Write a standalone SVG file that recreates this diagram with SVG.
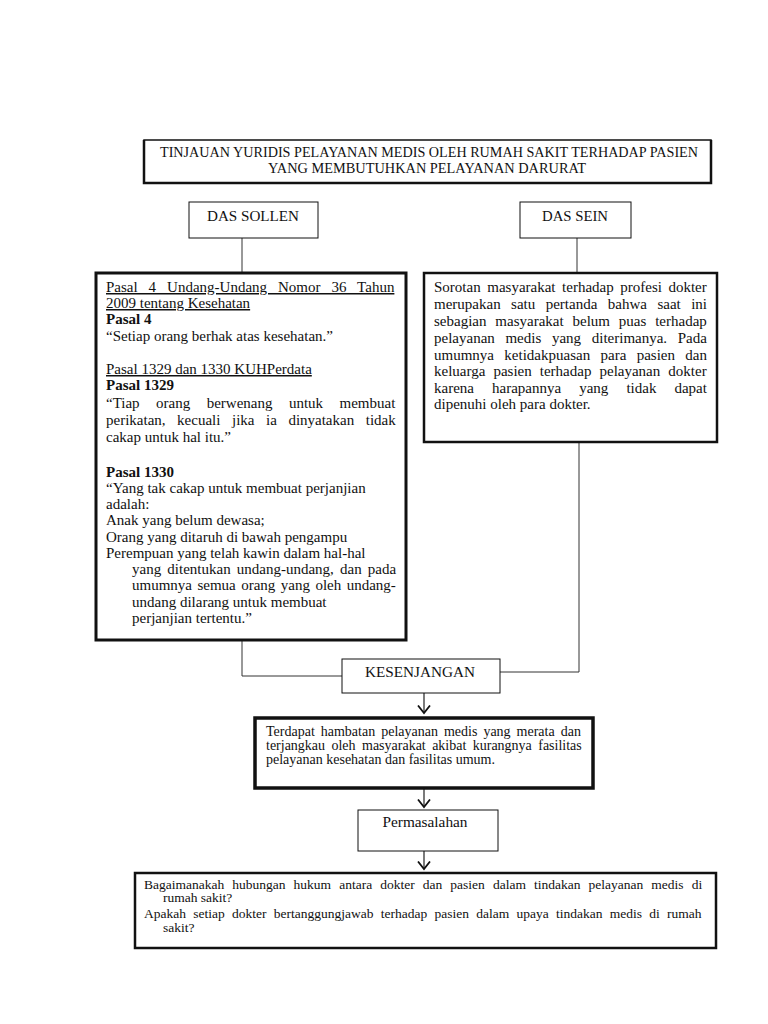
<svg xmlns="http://www.w3.org/2000/svg" width="768" height="1024" viewBox="0 0 768 1024">
<defs>
<style>
text{font-family:"Liberation Serif","Times New Roman",serif;fill:#111;}
.t{font-size:13.5px;}
.h{font-size:14.5px;}
.m{font-size:15px;}
.b{font-size:15px;font-weight:bold;}
.s{font-size:14px;}
.xs{font-size:13.5px;}
.u{text-decoration:underline;}
.box{fill:#fff;stroke:#111;}
.thin{stroke-width:1;}
.conn{stroke:#333;stroke-width:1;fill:none;}
.arr{stroke:#222;stroke-width:1.2;fill:none;marker-end:url(#chev);}
</style>
<marker id="chev" viewBox="0 0 10 14" refX="8.5" refY="7" markerWidth="10" markerHeight="14" markerUnits="userSpaceOnUse" orient="auto">
<path d="M1,1 L8.5,7 L1,13" fill="none" stroke="#111" stroke-width="1.8"/>
</marker>
</defs>
<rect width="768" height="1024" fill="#fff"/>

<g id="connectors">
<line class="conn" x1="242" y1="238" x2="242" y2="273"/>
<line class="conn" x1="577" y1="238" x2="577" y2="273"/>
<polyline class="conn" points="242,641 242,676 342,676"/>
<polyline class="conn" points="579,443 579,672 500,672"/>
<line class="arr" x1="424" y1="693" x2="424" y2="713"/>
<line class="arr" x1="424" y1="788" x2="424" y2="807"/>
<line class="arr" x1="424" y1="851" x2="424" y2="869"/>
</g>

<g id="title">
<rect class="box" x="144" y="140" width="567" height="43" stroke-width="1.5"/>
<path d="M144,140 L144,183 L711,183 L711,140" fill="none" stroke="#111" stroke-width="2.5"/>
<text class="h" x="429" y="157" text-anchor="middle" textLength="538" lengthAdjust="spacingAndGlyphs">TINJAUAN YURIDIS PELAYANAN MEDIS OLEH RUMAH SAKIT TERHADAP PASIEN</text>
<text class="h" x="427" y="173" text-anchor="middle" textLength="318" lengthAdjust="spacingAndGlyphs">YANG MEMBUTUHKAN PELAYANAN DARURAT</text>
</g>

<g id="das-sollen">
<rect class="box thin" x="189" y="202" width="129" height="36"/>
<text class="h" x="253" y="221" text-anchor="middle" textLength="92" lengthAdjust="spacingAndGlyphs">DAS SOLLEN</text>
</g>

<g id="das-sein">
<rect class="box thin" x="520" y="202" width="111" height="36"/>
<text class="h" x="575" y="221" text-anchor="middle" textLength="66" lengthAdjust="spacingAndGlyphs">DAS SEIN</text>
</g>

<g id="sollen-content">
<rect class="box" x="96" y="273" width="310" height="367" stroke-width="3"/>
<text class="m u" x="106" y="292" word-spacing="7.2">Pasal 4 Undang-Undang Nomor 36 Tahun</text>
<text class="m u" x="106" y="308">2009 tentang Kesehatan</text>
<text class="b" x="106" y="324">Pasal 4</text>
<text class="m" x="106" y="341">“Setiap orang berhak atas kesehatan.”</text>
<text class="m u" x="106" y="374">Pasal 1329 dan 1330 KUHPerdata</text>
<text class="b" x="106" y="390">Pasal 1329</text>
<text class="m" x="106" y="408" word-spacing="12.7">“Tiap orang berwenang untuk membuat</text>
<text class="m" x="106" y="425" word-spacing="7.8">perikatan, kecuali jika ia dinyatakan tidak</text>
<text class="m" x="106" y="442">cakap untuk hal itu.”</text>
<text class="b" x="106" y="477">Pasal 1330</text>
<text class="m" x="106" y="493">“Yang tak cakap untuk membuat perjanjian</text>
<text class="m" x="106" y="509">adalah:</text>
<text class="m" x="106" y="525">Anak yang belum dewasa;</text>
<text class="m" x="106" y="542">Orang yang ditaruh di bawah pengampu</text>
<text class="m" x="106" y="558">Perempuan yang telah kawin dalam hal-hal</text>
<text class="m" x="132" y="574" word-spacing="2.4">yang ditentukan undang-undang, dan pada</text>
<text class="m" x="132" y="590" word-spacing="1.7">umumnya semua orang yang oleh undang-</text>
<text class="m" x="132" y="607">undang dilarang untuk membuat</text>
<text class="m" x="132" y="623">perjanjian tertentu.”</text>
</g>

<g id="sein-content">
<rect class="box" x="424" y="273" width="293" height="169" stroke-width="2.5"/>
<text class="m" x="434" y="292" word-spacing="2.8">Sorotan masyarakat terhadap profesi dokter</text>
<text class="m" x="434" y="309" word-spacing="6.7">merupakan satu pertanda bahwa saat ini</text>
<text class="m" x="434" y="326" word-spacing="5.1">sebagian masyarakat belum puas terhadap</text>
<text class="m" x="434" y="343" word-spacing="6.9">pelayanan medis yang diterimanya. Pada</text>
<text class="m" x="434" y="360" word-spacing="6.6">umumnya ketidakpuasan para pasien dan</text>
<text class="m" x="434" y="376" word-spacing="4.3">keluarga pasien terhadap pelayanan dokter</text>
<text class="m" x="434" y="393" word-spacing="14.3">karena harapannya yang tidak dapat</text>
<text class="m" x="434" y="409">dipenuhi oleh para dokter.</text>
</g>

<g id="kesenjangan">
<rect class="box thin" x="342" y="659" width="158" height="34"/>
<text class="h" x="420" y="677" text-anchor="middle" textLength="110" lengthAdjust="spacingAndGlyphs">KESENJANGAN</text>
</g>

<g id="hambatan">
<rect class="box" x="255" y="718" width="338" height="70" stroke-width="3.5"/>
<text class="s" x="266" y="736" word-spacing="2.5">Terdapat hambatan pelayanan medis yang merata dan</text>
<text class="s" x="266" y="750" word-spacing="2.9">terjangkau oleh masyarakat akibat kurangnya fasilitas</text>
<text class="s" x="266" y="764">pelayanan kesehatan dan fasilitas umum.</text>
</g>

<g id="permasalahan">
<rect class="box thin" x="358" y="810" width="140" height="41"/>
<text class="h" x="425" y="827" text-anchor="middle" textLength="85" lengthAdjust="spacingAndGlyphs">Permasalahan</text>
</g>

<g id="rumusan">
<rect class="box" x="135" y="873" width="581" height="75" stroke-width="2.5"/>
<text class="xs" x="144" y="889" word-spacing="4.7">Bagaimanakah hubungan hukum antara dokter dan pasien dalam tindakan pelayanan medis di</text>
<text class="xs" x="163" y="902">rumah sakit?</text>
<text class="xs" x="144" y="918" word-spacing="3.9">Apakah setiap dokter bertanggungjawab terhadap pasien dalam upaya tindakan medis di rumah</text>
<text class="xs" x="163" y="932">sakit?</text>
</g>
</svg>
